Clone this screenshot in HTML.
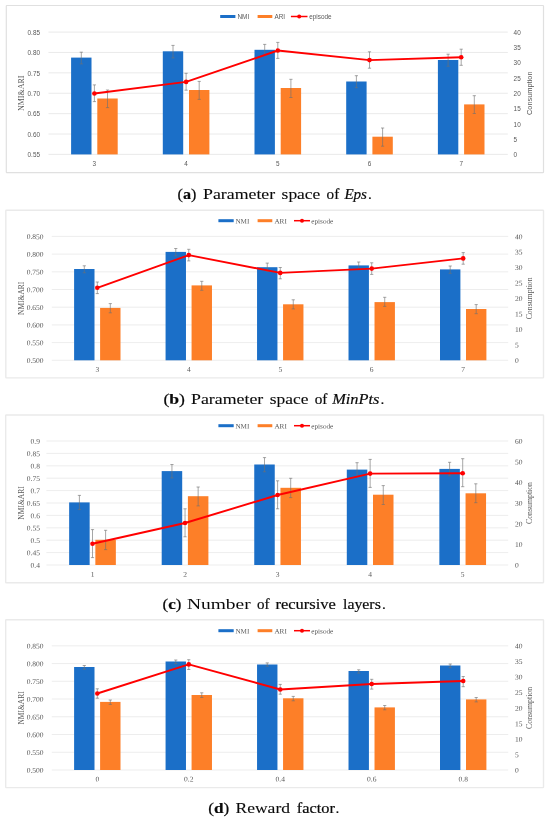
<!DOCTYPE html>
<html lang="en"><head><meta charset="utf-8"><title>Figure</title>
<style>html,body{margin:0;padding:0;background:#fff}svg{display:block}text{font-kerning:normal}</style></head><body>
<svg width="550" height="824" viewBox="0 0 550 824">
<rect width="550" height="824" fill="#fff"/>
<g>
<rect x="6.3" y="5.5" width="537.2" height="167.2" rx="0.6" fill="#fff" stroke="#e0e0e0" stroke-width="1.2"/>
<line x1="48.5" y1="154.4" x2="507.8" y2="154.4" stroke="#e4e4e4" stroke-width="0.8"/>
<line x1="48.5" y1="134.02" x2="507.8" y2="134.02" stroke="#e4e4e4" stroke-width="0.8"/>
<line x1="48.5" y1="113.63" x2="507.8" y2="113.63" stroke="#e4e4e4" stroke-width="0.8"/>
<line x1="48.5" y1="93.25" x2="507.8" y2="93.25" stroke="#e4e4e4" stroke-width="0.8"/>
<line x1="48.5" y1="72.87" x2="507.8" y2="72.87" stroke="#e4e4e4" stroke-width="0.8"/>
<line x1="48.5" y1="52.48" x2="507.8" y2="52.48" stroke="#e4e4e4" stroke-width="0.8"/>
<line x1="48.5" y1="32.1" x2="507.8" y2="32.1" stroke="#e4e4e4" stroke-width="0.8"/>
<g font-family="'Liberation Sans','DejaVu Sans',sans-serif" font-size="6.4" fill="#595959">
<text transform="translate(40 157.08)" text-anchor="end">0.55</text>
<text transform="translate(40 136.69)" text-anchor="end">0.60</text>
<text transform="translate(40 116.31)" text-anchor="end">0.65</text>
<text transform="translate(40 95.93)" text-anchor="end">0.70</text>
<text transform="translate(40 75.54)" text-anchor="end">0.75</text>
<text transform="translate(40 55.16)" text-anchor="end">0.80</text>
<text transform="translate(40 34.78)" text-anchor="end">0.85</text>
<text transform="translate(513.6 157.08)">0</text>
<text transform="translate(513.6 141.79)">5</text>
<text transform="translate(513.6 126.5)">10</text>
<text transform="translate(513.6 111.21)">15</text>
<text transform="translate(513.6 95.93)">20</text>
<text transform="translate(513.6 80.64)">25</text>
<text transform="translate(513.6 65.35)">30</text>
<text transform="translate(513.6 50.06)">35</text>
<text transform="translate(513.6 34.78)">40</text>
<text transform="translate(94.4 166.08)" text-anchor="middle">3</text>
<text transform="translate(186.1 166.08)" text-anchor="middle">4</text>
<text transform="translate(277.8 166.08)" text-anchor="middle">5</text>
<text transform="translate(369.5 166.08)" text-anchor="middle">6</text>
<text transform="translate(461.2 166.08)" text-anchor="middle">7</text>
</g>
<text transform="translate(23.7 93.25) rotate(-90)" text-anchor="middle" font-family="'Liberation Serif',serif" font-size="8" fill="#595959">NMI&amp;ARI</text>
<text transform="translate(532.1 93.25) rotate(-90)" text-anchor="middle" font-family="'Liberation Sans','DejaVu Sans',sans-serif" font-size="7.4" fill="#595959">Consumption</text>
<rect x="71.1" y="57.6" width="20.4" height="96.8" fill="#1b6fc8"/>
<rect x="97.3" y="98.5" width="20.4" height="55.9" fill="#fd7f28"/>
<rect x="162.8" y="51.3" width="20.4" height="103.1" fill="#1b6fc8"/>
<rect x="189" y="90" width="20.4" height="64.4" fill="#fd7f28"/>
<rect x="254.5" y="49.8" width="20.4" height="104.6" fill="#1b6fc8"/>
<rect x="280.7" y="88" width="20.4" height="66.4" fill="#fd7f28"/>
<rect x="346.2" y="81.5" width="20.4" height="72.9" fill="#1b6fc8"/>
<rect x="372.4" y="136.7" width="20.4" height="17.7" fill="#fd7f28"/>
<rect x="437.9" y="60" width="20.4" height="94.4" fill="#1b6fc8"/>
<rect x="464.1" y="104.4" width="20.4" height="50" fill="#fd7f28"/>
<path d="M81.3 52.2V63.9M79.7 52.2H82.9M79.7 63.9H82.9" stroke="#707070" stroke-width="0.62" fill="none"/>
<path d="M107.5 90V107.6M105.9 90H109.1M105.9 107.6H109.1" stroke="#707070" stroke-width="0.62" fill="none"/>
<path d="M173 45.4V57.9M171.4 45.4H174.6M171.4 57.9H174.6" stroke="#707070" stroke-width="0.62" fill="none"/>
<path d="M199.2 81.4V99.4M197.6 81.4H200.8M197.6 99.4H200.8" stroke="#707070" stroke-width="0.62" fill="none"/>
<path d="M264.7 44.4V55.7M263.1 44.4H266.3M263.1 55.7H266.3" stroke="#707070" stroke-width="0.62" fill="none"/>
<path d="M290.9 79.3V97.5M289.3 79.3H292.5M289.3 97.5H292.5" stroke="#707070" stroke-width="0.62" fill="none"/>
<path d="M356.4 75.7V87.7M354.8 75.7H358M354.8 87.7H358" stroke="#707070" stroke-width="0.62" fill="none"/>
<path d="M382.6 128V146.2M381 128H384.2M381 146.2H384.2" stroke="#707070" stroke-width="0.62" fill="none"/>
<path d="M448.1 54.2V66.2M446.5 54.2H449.7M446.5 66.2H449.7" stroke="#707070" stroke-width="0.62" fill="none"/>
<path d="M474.3 95.7V113.5M472.7 95.7H475.9M472.7 113.5H475.9" stroke="#707070" stroke-width="0.62" fill="none"/>
<path d="M94.4 84.9V101.6M92.8 84.9H96M92.8 101.6H96" stroke="#707070" stroke-width="0.62" fill="none"/>
<path d="M186.1 73.3V90.2M184.5 73.3H187.7M184.5 90.2H187.7" stroke="#707070" stroke-width="0.62" fill="none"/>
<path d="M277.8 42.4V58.4M276.2 42.4H279.4M276.2 58.4H279.4" stroke="#707070" stroke-width="0.62" fill="none"/>
<path d="M369.5 51.8V68.2M367.9 51.8H371.1M367.9 68.2H371.1" stroke="#707070" stroke-width="0.62" fill="none"/>
<path d="M461.2 49.2V65.3M459.6 49.2H462.8M459.6 65.3H462.8" stroke="#707070" stroke-width="0.62" fill="none"/>
<polyline points="94.4,93.5 186.1,81.9 277.8,50.5 369.5,60.1 461.2,57.3" fill="none" stroke="#ff0000" stroke-width="1.9" stroke-linejoin="round"/>
<circle cx="94.4" cy="93.5" r="2.3" fill="#ff0000"/>
<circle cx="186.1" cy="81.9" r="2.3" fill="#ff0000"/>
<circle cx="277.8" cy="50.5" r="2.3" fill="#ff0000"/>
<circle cx="369.5" cy="60.1" r="2.3" fill="#ff0000"/>
<circle cx="461.2" cy="57.3" r="2.3" fill="#ff0000"/>
<rect x="220.2" y="15" width="15.2" height="3" fill="#1b6fc8"/>
<rect x="257.6" y="15" width="14.7" height="3" fill="#fd7f28"/>
<line x1="290.9" y1="16.5" x2="307.5" y2="16.5" stroke="#ff0000" stroke-width="1.5"/>
<circle cx="299.2" cy="16.5" r="2" fill="#ff0000"/>
<g font-family="'Liberation Sans','DejaVu Sans',sans-serif" font-size="6.4" fill="#595959">
<text transform="translate(237.5 18.68)">NMI</text>
<text transform="translate(274.4 18.68)">ARI</text>
<text transform="translate(309.2 18.68)">episode</text>
</g>
</g>
<g>
<rect x="5.8" y="210.2" width="537.7" height="167.7" rx="0.6" fill="#fff" stroke="#eaeaea" stroke-width="1.4"/>
<line x1="51.8" y1="360.3" x2="508.2" y2="360.3" stroke="#e9e9e9" stroke-width="0.8"/>
<line x1="51.8" y1="342.6" x2="508.2" y2="342.6" stroke="#e9e9e9" stroke-width="0.8"/>
<line x1="51.8" y1="324.9" x2="508.2" y2="324.9" stroke="#e9e9e9" stroke-width="0.8"/>
<line x1="51.8" y1="307.2" x2="508.2" y2="307.2" stroke="#e9e9e9" stroke-width="0.8"/>
<line x1="51.8" y1="289.5" x2="508.2" y2="289.5" stroke="#e9e9e9" stroke-width="0.8"/>
<line x1="51.8" y1="271.8" x2="508.2" y2="271.8" stroke="#e9e9e9" stroke-width="0.8"/>
<line x1="51.8" y1="254.1" x2="508.2" y2="254.1" stroke="#e9e9e9" stroke-width="0.8"/>
<line x1="51.8" y1="236.4" x2="508.2" y2="236.4" stroke="#e9e9e9" stroke-width="0.8"/>
<g font-family="'Liberation Serif',serif" font-size="7.3" fill="#595959">
<text transform="translate(43.6 363.03) rotate(0.03) scale(1.03 1)" text-anchor="end">0.500</text>
<text transform="translate(43.6 345.33) rotate(0.03) scale(1.03 1)" text-anchor="end">0.550</text>
<text transform="translate(43.6 327.63) rotate(0.03) scale(1.03 1)" text-anchor="end">0.600</text>
<text transform="translate(43.6 309.93) rotate(0.03) scale(1.03 1)" text-anchor="end">0.650</text>
<text transform="translate(43.6 292.23) rotate(0.03) scale(1.03 1)" text-anchor="end">0.700</text>
<text transform="translate(43.6 274.53) rotate(0.03) scale(1.03 1)" text-anchor="end">0.750</text>
<text transform="translate(43.6 256.83) rotate(0.03) scale(1.03 1)" text-anchor="end">0.800</text>
<text transform="translate(43.6 239.13) rotate(0.03) scale(1.03 1)" text-anchor="end">0.850</text>
<text transform="translate(515 363.03) rotate(0.03) scale(1.03 1)">0</text>
<text transform="translate(515 347.54) rotate(0.03) scale(1.03 1)">5</text>
<text transform="translate(515 332.06) rotate(0.03) scale(1.03 1)">10</text>
<text transform="translate(515 316.57) rotate(0.03) scale(1.03 1)">15</text>
<text transform="translate(515 301.08) rotate(0.03) scale(1.03 1)">20</text>
<text transform="translate(515 285.59) rotate(0.03) scale(1.03 1)">25</text>
<text transform="translate(515 270.11) rotate(0.03) scale(1.03 1)">30</text>
<text transform="translate(515 254.62) rotate(0.03) scale(1.03 1)">35</text>
<text transform="translate(515 239.13) rotate(0.03) scale(1.03 1)">40</text>
<text transform="translate(97.3 371.78) rotate(0.03) scale(1.03 1)" text-anchor="middle">3</text>
<text transform="translate(188.77 371.78) rotate(0.03) scale(1.03 1)" text-anchor="middle">4</text>
<text transform="translate(280.25 371.78) rotate(0.03) scale(1.03 1)" text-anchor="middle">5</text>
<text transform="translate(371.72 371.78) rotate(0.03) scale(1.03 1)" text-anchor="middle">6</text>
<text transform="translate(463.2 371.78) rotate(0.03) scale(1.03 1)" text-anchor="middle">7</text>
</g>
<text transform="translate(23.5 298.35) rotate(-90)" text-anchor="middle" font-family="'Liberation Serif',serif" font-size="7.5" fill="#595959">NMI&amp;ARI</text>
<text transform="translate(532 298.35) rotate(-90)" text-anchor="middle" font-family="'Liberation Serif',serif" font-size="7.8" fill="#595959">Consumption</text>
<rect x="74.1" y="269" width="20.4" height="91.3" fill="#1b6fc8"/>
<rect x="100.1" y="307.9" width="20.4" height="52.4" fill="#fd7f28"/>
<rect x="165.57" y="251.9" width="20.4" height="108.4" fill="#1b6fc8"/>
<rect x="191.57" y="285.4" width="20.4" height="74.9" fill="#fd7f28"/>
<rect x="257.05" y="267.2" width="20.4" height="93.1" fill="#1b6fc8"/>
<rect x="283.05" y="304.3" width="20.4" height="56" fill="#fd7f28"/>
<rect x="348.52" y="265.4" width="20.4" height="94.9" fill="#1b6fc8"/>
<rect x="374.52" y="302.1" width="20.4" height="58.2" fill="#fd7f28"/>
<rect x="440" y="269.4" width="20.4" height="90.9" fill="#1b6fc8"/>
<rect x="466" y="309" width="20.4" height="51.3" fill="#fd7f28"/>
<path d="M84.3 265.8V272.8M82.7 265.8H85.9M82.7 272.8H85.9" stroke="#707070" stroke-width="0.62" fill="none"/>
<path d="M110.3 303.6V312.8M108.7 303.6H111.9M108.7 312.8H111.9" stroke="#707070" stroke-width="0.62" fill="none"/>
<path d="M175.77 248.5V255.9M174.17 248.5H177.37M174.17 255.9H177.37" stroke="#707070" stroke-width="0.62" fill="none"/>
<path d="M201.77 281.3V290.3M200.17 281.3H203.37M200.17 290.3H203.37" stroke="#707070" stroke-width="0.62" fill="none"/>
<path d="M267.25 263.1V271.5M265.65 263.1H268.85M265.65 271.5H268.85" stroke="#707070" stroke-width="0.62" fill="none"/>
<path d="M293.25 299.8V308.9M291.65 299.8H294.85M291.65 308.9H294.85" stroke="#707070" stroke-width="0.62" fill="none"/>
<path d="M358.72 262V269.7M357.12 262H360.32M357.12 269.7H360.32" stroke="#707070" stroke-width="0.62" fill="none"/>
<path d="M384.72 297.3V306.4M383.12 297.3H386.32M383.12 306.4H386.32" stroke="#707070" stroke-width="0.62" fill="none"/>
<path d="M450.2 266V273.3M448.6 266H451.8M448.6 273.3H451.8" stroke="#707070" stroke-width="0.62" fill="none"/>
<path d="M476.2 304.6V313.7M474.6 304.6H477.8M474.6 313.7H477.8" stroke="#707070" stroke-width="0.62" fill="none"/>
<path d="M97.3 282V293.6M95.7 282H98.9M95.7 293.6H98.9" stroke="#707070" stroke-width="0.62" fill="none"/>
<path d="M188.77 249.3V260.9M187.17 249.3H190.37M187.17 260.9H190.37" stroke="#707070" stroke-width="0.62" fill="none"/>
<path d="M280.25 267.5V278.8M278.65 267.5H281.85M278.65 278.8H281.85" stroke="#707070" stroke-width="0.62" fill="none"/>
<path d="M371.72 262.8V274.4M370.12 262.8H373.32M370.12 274.4H373.32" stroke="#707070" stroke-width="0.62" fill="none"/>
<path d="M463.2 252.6V264.2M461.6 252.6H464.8M461.6 264.2H464.8" stroke="#707070" stroke-width="0.62" fill="none"/>
<polyline points="97.3,287.8 188.77,255.1 280.25,272.9 371.72,268.6 463.2,258.4" fill="none" stroke="#ff0000" stroke-width="1.9" stroke-linejoin="round"/>
<circle cx="97.3" cy="287.8" r="2.3" fill="#ff0000"/>
<circle cx="188.77" cy="255.1" r="2.3" fill="#ff0000"/>
<circle cx="280.25" cy="272.9" r="2.3" fill="#ff0000"/>
<circle cx="371.72" cy="268.6" r="2.3" fill="#ff0000"/>
<circle cx="463.2" cy="258.4" r="2.3" fill="#ff0000"/>
<rect x="218.4" y="219.2" width="15.3" height="3" fill="#1b6fc8"/>
<rect x="257.6" y="219.2" width="14.7" height="3" fill="#fd7f28"/>
<line x1="294" y1="220.7" x2="310" y2="220.7" stroke="#ff0000" stroke-width="1.5"/>
<circle cx="302" cy="220.7" r="2" fill="#ff0000"/>
<g font-family="'Liberation Serif',serif" font-size="7.0" fill="#595959">
<text transform="translate(235.4 223.38) rotate(0.03) scale(1.03 1)">NMI</text>
<text transform="translate(274.4 223.38) rotate(0.03) scale(1.03 1)">ARI</text>
<text transform="translate(311.3 223.38) rotate(0.03) scale(1.03 1)">episode</text>
</g>
</g>
<g>
<rect x="5.7" y="415" width="537.8" height="167.8" rx="0.6" fill="#fff" stroke="#eaeaea" stroke-width="1.4"/>
<line x1="46.4" y1="565" x2="508.2" y2="565" stroke="#e9e9e9" stroke-width="0.8"/>
<line x1="46.4" y1="552.6" x2="508.2" y2="552.6" stroke="#e9e9e9" stroke-width="0.8"/>
<line x1="46.4" y1="540.2" x2="508.2" y2="540.2" stroke="#e9e9e9" stroke-width="0.8"/>
<line x1="46.4" y1="527.8" x2="508.2" y2="527.8" stroke="#e9e9e9" stroke-width="0.8"/>
<line x1="46.4" y1="515.4" x2="508.2" y2="515.4" stroke="#e9e9e9" stroke-width="0.8"/>
<line x1="46.4" y1="503" x2="508.2" y2="503" stroke="#e9e9e9" stroke-width="0.8"/>
<line x1="46.4" y1="490.6" x2="508.2" y2="490.6" stroke="#e9e9e9" stroke-width="0.8"/>
<line x1="46.4" y1="478.2" x2="508.2" y2="478.2" stroke="#e9e9e9" stroke-width="0.8"/>
<line x1="46.4" y1="465.8" x2="508.2" y2="465.8" stroke="#e9e9e9" stroke-width="0.8"/>
<line x1="46.4" y1="453.4" x2="508.2" y2="453.4" stroke="#e9e9e9" stroke-width="0.8"/>
<line x1="46.4" y1="441" x2="508.2" y2="441" stroke="#e9e9e9" stroke-width="0.8"/>
<g font-family="'Liberation Serif',serif" font-size="7.3" fill="#595959">
<text transform="translate(40 567.73) rotate(0.03) scale(1.03 1)" text-anchor="end">0.4</text>
<text transform="translate(40 555.33) rotate(0.03) scale(1.03 1)" text-anchor="end">0.45</text>
<text transform="translate(40 542.93) rotate(0.03) scale(1.03 1)" text-anchor="end">0.5</text>
<text transform="translate(40 530.53) rotate(0.03) scale(1.03 1)" text-anchor="end">0.55</text>
<text transform="translate(40 518.13) rotate(0.03) scale(1.03 1)" text-anchor="end">0.6</text>
<text transform="translate(40 505.73) rotate(0.03) scale(1.03 1)" text-anchor="end">0.65</text>
<text transform="translate(40 493.33) rotate(0.03) scale(1.03 1)" text-anchor="end">0.7</text>
<text transform="translate(40 480.93) rotate(0.03) scale(1.03 1)" text-anchor="end">0.75</text>
<text transform="translate(40 468.53) rotate(0.03) scale(1.03 1)" text-anchor="end">0.8</text>
<text transform="translate(40 456.13) rotate(0.03) scale(1.03 1)" text-anchor="end">0.85</text>
<text transform="translate(40 443.73) rotate(0.03) scale(1.03 1)" text-anchor="end">0.9</text>
<text transform="translate(515 567.73) rotate(0.03) scale(1.03 1)">0</text>
<text transform="translate(515 547.07) rotate(0.03) scale(1.03 1)">10</text>
<text transform="translate(515 526.4) rotate(0.03) scale(1.03 1)">20</text>
<text transform="translate(515 505.73) rotate(0.03) scale(1.03 1)">30</text>
<text transform="translate(515 485.07) rotate(0.03) scale(1.03 1)">40</text>
<text transform="translate(515 464.4) rotate(0.03) scale(1.03 1)">50</text>
<text transform="translate(515 443.73) rotate(0.03) scale(1.03 1)">60</text>
<text transform="translate(92.5 576.78) rotate(0.03) scale(1.03 1)" text-anchor="middle">1</text>
<text transform="translate(185.05 576.78) rotate(0.03) scale(1.03 1)" text-anchor="middle">2</text>
<text transform="translate(277.6 576.78) rotate(0.03) scale(1.03 1)" text-anchor="middle">3</text>
<text transform="translate(370.15 576.78) rotate(0.03) scale(1.03 1)" text-anchor="middle">4</text>
<text transform="translate(462.7 576.78) rotate(0.03) scale(1.03 1)" text-anchor="middle">5</text>
</g>
<text transform="translate(23.5 503) rotate(-90)" text-anchor="middle" font-family="'Liberation Serif',serif" font-size="7.5" fill="#595959">NMI&amp;ARI</text>
<text transform="translate(532 503) rotate(-90)" text-anchor="middle" font-family="'Liberation Serif',serif" font-size="7.8" fill="#595959">Consumption</text>
<rect x="69.15" y="502.4" width="20.5" height="62.6" fill="#1b6fc8"/>
<rect x="95.35" y="539.8" width="20.5" height="25.2" fill="#fd7f28"/>
<rect x="161.7" y="471.1" width="20.5" height="93.9" fill="#1b6fc8"/>
<rect x="187.9" y="496.2" width="20.5" height="68.8" fill="#fd7f28"/>
<rect x="254.25" y="464.5" width="20.5" height="100.5" fill="#1b6fc8"/>
<rect x="280.45" y="487.8" width="20.5" height="77.2" fill="#fd7f28"/>
<rect x="346.8" y="469.6" width="20.5" height="95.4" fill="#1b6fc8"/>
<rect x="373" y="494.7" width="20.5" height="70.3" fill="#fd7f28"/>
<rect x="439.35" y="468.9" width="20.5" height="96.1" fill="#1b6fc8"/>
<rect x="465.55" y="493.3" width="20.5" height="71.7" fill="#fd7f28"/>
<path d="M79.4 495.4V509.6M77.8 495.4H81M77.8 509.6H81" stroke="#707070" stroke-width="0.62" fill="none"/>
<path d="M105.6 530.3V549.6M104 530.3H107.2M104 549.6H107.2" stroke="#707070" stroke-width="0.62" fill="none"/>
<path d="M171.95 464.5V477.9M170.35 464.5H173.55M170.35 477.9H173.55" stroke="#707070" stroke-width="0.62" fill="none"/>
<path d="M198.15 487V505.9M196.55 487H199.75M196.55 505.9H199.75" stroke="#707070" stroke-width="0.62" fill="none"/>
<path d="M264.5 457.6V471.8M262.9 457.6H266.1M262.9 471.8H266.1" stroke="#707070" stroke-width="0.62" fill="none"/>
<path d="M290.7 478.3V497.6M289.1 478.3H292.3M289.1 497.6H292.3" stroke="#707070" stroke-width="0.62" fill="none"/>
<path d="M357.05 462.7V476.8M355.45 462.7H358.65M355.45 476.8H358.65" stroke="#707070" stroke-width="0.62" fill="none"/>
<path d="M383.25 485.6V504.5M381.65 485.6H384.85M381.65 504.5H384.85" stroke="#707070" stroke-width="0.62" fill="none"/>
<path d="M449.6 462.3V475.8M448 462.3H451.2M448 475.8H451.2" stroke="#707070" stroke-width="0.62" fill="none"/>
<path d="M475.8 483.8V502.7M474.2 483.8H477.4M474.2 502.7H477.4" stroke="#707070" stroke-width="0.62" fill="none"/>
<path d="M92.5 529.6V557.6M90.9 529.6H94.1M90.9 557.6H94.1" stroke="#707070" stroke-width="0.62" fill="none"/>
<path d="M185.05 508.8V536.8M183.45 508.8H186.65M183.45 536.8H186.65" stroke="#707070" stroke-width="0.62" fill="none"/>
<path d="M277.6 480.8V508.8M276 480.8H279.2M276 508.8H279.2" stroke="#707070" stroke-width="0.62" fill="none"/>
<path d="M370.15 459.4V487.4M368.55 459.4H371.75M368.55 487.4H371.75" stroke="#707070" stroke-width="0.62" fill="none"/>
<path d="M462.7 458.7V486.7M461.1 458.7H464.3M461.1 486.7H464.3" stroke="#707070" stroke-width="0.62" fill="none"/>
<polyline points="92.5,543.8 185.05,523 277.6,495 370.15,473.6 462.7,473.2" fill="none" stroke="#ff0000" stroke-width="1.9" stroke-linejoin="round"/>
<circle cx="92.5" cy="543.8" r="2.3" fill="#ff0000"/>
<circle cx="185.05" cy="523" r="2.3" fill="#ff0000"/>
<circle cx="277.6" cy="495" r="2.3" fill="#ff0000"/>
<circle cx="370.15" cy="473.6" r="2.3" fill="#ff0000"/>
<circle cx="462.7" cy="473.2" r="2.3" fill="#ff0000"/>
<rect x="218.4" y="424.2" width="15.3" height="3" fill="#1b6fc8"/>
<rect x="257.6" y="424.2" width="14.7" height="3" fill="#fd7f28"/>
<line x1="294" y1="425.7" x2="310" y2="425.7" stroke="#ff0000" stroke-width="1.5"/>
<circle cx="302" cy="425.7" r="2" fill="#ff0000"/>
<g font-family="'Liberation Serif',serif" font-size="7.0" fill="#595959">
<text transform="translate(235.4 428.38) rotate(0.03) scale(1.03 1)">NMI</text>
<text transform="translate(274.4 428.38) rotate(0.03) scale(1.03 1)">ARI</text>
<text transform="translate(311.3 428.38) rotate(0.03) scale(1.03 1)">episode</text>
</g>
</g>
<g>
<rect x="5.7" y="619.7" width="537.8" height="167.9" rx="0.6" fill="#fff" stroke="#eaeaea" stroke-width="1.4"/>
<line x1="51.8" y1="770" x2="508.2" y2="770" stroke="#e9e9e9" stroke-width="0.8"/>
<line x1="51.8" y1="752.26" x2="508.2" y2="752.26" stroke="#e9e9e9" stroke-width="0.8"/>
<line x1="51.8" y1="734.51" x2="508.2" y2="734.51" stroke="#e9e9e9" stroke-width="0.8"/>
<line x1="51.8" y1="716.77" x2="508.2" y2="716.77" stroke="#e9e9e9" stroke-width="0.8"/>
<line x1="51.8" y1="699.03" x2="508.2" y2="699.03" stroke="#e9e9e9" stroke-width="0.8"/>
<line x1="51.8" y1="681.29" x2="508.2" y2="681.29" stroke="#e9e9e9" stroke-width="0.8"/>
<line x1="51.8" y1="663.54" x2="508.2" y2="663.54" stroke="#e9e9e9" stroke-width="0.8"/>
<line x1="51.8" y1="645.8" x2="508.2" y2="645.8" stroke="#e9e9e9" stroke-width="0.8"/>
<g font-family="'Liberation Serif',serif" font-size="7.3" fill="#595959">
<text transform="translate(43.6 772.73) rotate(0.03) scale(1.03 1)" text-anchor="end">0.500</text>
<text transform="translate(43.6 754.99) rotate(0.03) scale(1.03 1)" text-anchor="end">0.550</text>
<text transform="translate(43.6 737.25) rotate(0.03) scale(1.03 1)" text-anchor="end">0.600</text>
<text transform="translate(43.6 719.5) rotate(0.03) scale(1.03 1)" text-anchor="end">0.650</text>
<text transform="translate(43.6 701.76) rotate(0.03) scale(1.03 1)" text-anchor="end">0.700</text>
<text transform="translate(43.6 684.02) rotate(0.03) scale(1.03 1)" text-anchor="end">0.750</text>
<text transform="translate(43.6 666.27) rotate(0.03) scale(1.03 1)" text-anchor="end">0.800</text>
<text transform="translate(43.6 648.53) rotate(0.03) scale(1.03 1)" text-anchor="end">0.850</text>
<text transform="translate(515 772.73) rotate(0.03) scale(1.03 1)">0</text>
<text transform="translate(515 757.21) rotate(0.03) scale(1.03 1)">5</text>
<text transform="translate(515 741.68) rotate(0.03) scale(1.03 1)">10</text>
<text transform="translate(515 726.16) rotate(0.03) scale(1.03 1)">15</text>
<text transform="translate(515 710.63) rotate(0.03) scale(1.03 1)">20</text>
<text transform="translate(515 695.11) rotate(0.03) scale(1.03 1)">25</text>
<text transform="translate(515 679.58) rotate(0.03) scale(1.03 1)">30</text>
<text transform="translate(515 664.06) rotate(0.03) scale(1.03 1)">35</text>
<text transform="translate(515 648.53) rotate(0.03) scale(1.03 1)">40</text>
<text transform="translate(97.3 781.58) rotate(0.03) scale(1.03 1)" text-anchor="middle">0</text>
<text transform="translate(188.77 781.58) rotate(0.03) scale(1.03 1)" text-anchor="middle">0.2</text>
<text transform="translate(280.25 781.58) rotate(0.03) scale(1.03 1)" text-anchor="middle">0.4</text>
<text transform="translate(371.72 781.58) rotate(0.03) scale(1.03 1)" text-anchor="middle">0.6</text>
<text transform="translate(463.2 781.58) rotate(0.03) scale(1.03 1)" text-anchor="middle">0.8</text>
</g>
<text transform="translate(23.5 707.9) rotate(-90)" text-anchor="middle" font-family="'Liberation Serif',serif" font-size="7.5" fill="#595959">NMI&amp;ARI</text>
<text transform="translate(532 707.9) rotate(-90)" text-anchor="middle" font-family="'Liberation Serif',serif" font-size="7.8" fill="#595959">Consumption</text>
<rect x="74.1" y="667" width="20.4" height="103" fill="#1b6fc8"/>
<rect x="100.1" y="701.9" width="20.4" height="68.1" fill="#fd7f28"/>
<rect x="165.57" y="661.5" width="20.4" height="108.5" fill="#1b6fc8"/>
<rect x="191.57" y="695" width="20.4" height="75" fill="#fd7f28"/>
<rect x="257.05" y="664.5" width="20.4" height="105.5" fill="#1b6fc8"/>
<rect x="283.05" y="698.3" width="20.4" height="71.7" fill="#fd7f28"/>
<rect x="348.52" y="671" width="20.4" height="99" fill="#1b6fc8"/>
<rect x="374.52" y="707.4" width="20.4" height="62.6" fill="#fd7f28"/>
<rect x="440" y="665.5" width="20.4" height="104.5" fill="#1b6fc8"/>
<rect x="466" y="699.4" width="20.4" height="70.6" fill="#fd7f28"/>
<path d="M84.3 665.5V669.1M82.7 665.5H85.9M82.7 669.1H85.9" stroke="#707070" stroke-width="0.62" fill="none"/>
<path d="M110.3 700V704.4M108.7 700H111.9M108.7 704.4H111.9" stroke="#707070" stroke-width="0.62" fill="none"/>
<path d="M175.77 660V663.7M174.17 660H177.37M174.17 663.7H177.37" stroke="#707070" stroke-width="0.62" fill="none"/>
<path d="M201.77 692.8V697.5M200.17 692.8H203.37M200.17 697.5H203.37" stroke="#707070" stroke-width="0.62" fill="none"/>
<path d="M267.25 662.9V666.2M265.65 662.9H268.85M265.65 666.2H268.85" stroke="#707070" stroke-width="0.62" fill="none"/>
<path d="M293.25 696.4V700.8M291.65 696.4H294.85M291.65 700.8H294.85" stroke="#707070" stroke-width="0.62" fill="none"/>
<path d="M358.72 669.8V673.1M357.12 669.8H360.32M357.12 673.1H360.32" stroke="#707070" stroke-width="0.62" fill="none"/>
<path d="M384.72 705.5V709.8M383.12 705.5H386.32M383.12 709.8H386.32" stroke="#707070" stroke-width="0.62" fill="none"/>
<path d="M450.2 664V667.7M448.6 664H451.8M448.6 667.7H451.8" stroke="#707070" stroke-width="0.62" fill="none"/>
<path d="M476.2 697.5V701.9M474.6 697.5H477.8M474.6 701.9H477.8" stroke="#707070" stroke-width="0.62" fill="none"/>
<path d="M97.3 688.8V698.2M95.7 688.8H98.9M95.7 698.2H98.9" stroke="#707070" stroke-width="0.62" fill="none"/>
<path d="M188.77 659.7V669.5M187.17 659.7H190.37M187.17 669.5H190.37" stroke="#707070" stroke-width="0.62" fill="none"/>
<path d="M280.25 684.4V694.2M278.65 684.4H281.85M278.65 694.2H281.85" stroke="#707070" stroke-width="0.62" fill="none"/>
<path d="M371.72 679.3V689.1M370.12 679.3H373.32M370.12 689.1H373.32" stroke="#707070" stroke-width="0.62" fill="none"/>
<path d="M463.2 676.5V686.7M461.6 676.5H464.8M461.6 686.7H464.8" stroke="#707070" stroke-width="0.62" fill="none"/>
<polyline points="97.3,693.5 188.77,664.4 280.25,689.5 371.72,684 463.2,681" fill="none" stroke="#ff0000" stroke-width="1.9" stroke-linejoin="round"/>
<circle cx="97.3" cy="693.5" r="2.3" fill="#ff0000"/>
<circle cx="188.77" cy="664.4" r="2.3" fill="#ff0000"/>
<circle cx="280.25" cy="689.5" r="2.3" fill="#ff0000"/>
<circle cx="371.72" cy="684" r="2.3" fill="#ff0000"/>
<circle cx="463.2" cy="681" r="2.3" fill="#ff0000"/>
<rect x="218.4" y="629.2" width="15.3" height="3" fill="#1b6fc8"/>
<rect x="257.6" y="629.2" width="14.7" height="3" fill="#fd7f28"/>
<line x1="294" y1="630.7" x2="310" y2="630.7" stroke="#ff0000" stroke-width="1.5"/>
<circle cx="302" cy="630.7" r="2" fill="#ff0000"/>
<g font-family="'Liberation Serif',serif" font-size="7.0" fill="#595959">
<text transform="translate(235.4 633.38) rotate(0.03) scale(1.03 1)">NMI</text>
<text transform="translate(274.4 633.38) rotate(0.03) scale(1.03 1)">ARI</text>
<text transform="translate(311.3 633.38) rotate(0.03) scale(1.03 1)">episode</text>
</g>
</g>
<g font-family="'Liberation Serif','DejaVu Serif',serif" font-size="15.3" fill="#0a0a0a" stroke="#0a0a0a" stroke-width="0.2">
<text x="177.6" y="198.8" textLength="18.8" lengthAdjust="spacingAndGlyphs">(<tspan font-weight="bold">a</tspan>)</text>
<text x="203" y="198.8" textLength="72.2" lengthAdjust="spacingAndGlyphs" stroke-width="0.1">Parameter</text>
<text x="281.6" y="198.8" textLength="38.8" lengthAdjust="spacingAndGlyphs" stroke-width="0.1">space</text>
<text x="326.6" y="198.8" textLength="12.6" lengthAdjust="spacingAndGlyphs">of</text>
<text x="344.4" y="198.8" textLength="22.6" lengthAdjust="spacingAndGlyphs" font-style="italic">Eps</text>
<text x="367.9" y="198.8">.</text>
<text x="163.4" y="403.6" textLength="21.6" lengthAdjust="spacingAndGlyphs">(<tspan font-weight="bold">b</tspan>)</text>
<text x="191" y="403.6" textLength="72.3" lengthAdjust="spacingAndGlyphs" stroke-width="0.1">Parameter</text>
<text x="269.8" y="403.6" textLength="38.7" lengthAdjust="spacingAndGlyphs" stroke-width="0.1">space</text>
<text x="314.7" y="403.6" textLength="12.7" lengthAdjust="spacingAndGlyphs">of</text>
<text x="332.2" y="403.6" textLength="47.2" lengthAdjust="spacingAndGlyphs" font-style="italic">MinPts</text>
<text x="380.5" y="403.6">.</text>
<text x="162.6" y="608.5" textLength="18.9" lengthAdjust="spacingAndGlyphs">(<tspan font-weight="bold">c</tspan>)</text>
<text x="186.9" y="608.5" textLength="63.8" lengthAdjust="spacingAndGlyphs" stroke-width="0">Number</text>
<text x="257.1" y="608.5" textLength="12.5" lengthAdjust="spacingAndGlyphs">of</text>
<text x="275.5" y="608.5" textLength="60.4" lengthAdjust="spacingAndGlyphs">recursive</text>
<text x="343" y="608.5" textLength="37.8" lengthAdjust="spacingAndGlyphs">layers</text>
<text x="382.1" y="608.5">.</text>
<text x="208.2" y="813" textLength="21" lengthAdjust="spacingAndGlyphs">(<tspan font-weight="bold">d</tspan>)</text>
<text x="235.5" y="813" textLength="54.5" lengthAdjust="spacingAndGlyphs" stroke-width="0.1">Reward</text>
<text x="296.8" y="813" textLength="38.2" lengthAdjust="spacingAndGlyphs">factor</text>
<text x="335.5" y="813">.</text>
</g>
</svg></body></html>
